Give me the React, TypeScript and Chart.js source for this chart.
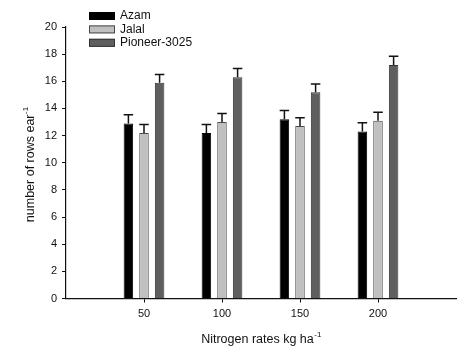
import React, { useEffect, useRef } from "react";
import { Chart, registerables } from "chart.js";

Chart.register(...registerables);

const categories = [50, 100, 150, 200];
const seriesNames = ["Azam", "Jalal", "Pioneer-3025"];
const azam = [12.9, 12.2, 13.2, 12.3];
const azamErr = [0.63, 0.62, 0.64, 0.65];
const jalal = [12.2, 13.0, 12.7, 13.1];
const jalalErr = [0.61, 0.62, 0.61, 0.62];
const pioneer = [15.9, 16.3, 15.2, 17.2];
const pioneerErr = [0.61, 0.64, 0.61, 0.64];
const yTicks = [0, 2, 4, 6, 8, 10, 12, 14, 16, 18, 20];
const xTitle = "Nitrogen rates kg ha";
const yTitle = "number of rows ear";
const titleSup = "-1";

const fills = ["#000000", "#c0c0c0", "#5f5f5f"];
const borders = ["#000000", "#4a4a4a", "#333333"];
const FONT = "'Liberation Sans', Arial, sans-serif";

const errorBarPlugin = {
  id: "errorBars",
  afterDatasetsDraw(chart: any) {
    const ctx = chart.ctx;
    const yScale = chart.scales.y;
    chart.data.datasets.forEach((ds: any, i: number) => {
      const meta = chart.getDatasetMeta(i);
      meta.data.forEach((bar: any, j: number) => {
        const v = ds.data[j].y;
        const e = ds.errors[j];
        const yTop = yScale.getPixelForValue(v);
        const yErr = yScale.getPixelForValue(v + e);
        const half = bar.width / 2;
        ctx.save();
        ctx.strokeStyle = "#111";
        ctx.lineWidth = 1.5;
        ctx.beginPath();
        ctx.moveTo(bar.x, yTop);
        ctx.lineTo(bar.x, yErr);
        ctx.moveTo(bar.x - half, yErr);
        ctx.lineTo(bar.x + half, yErr);
        ctx.stroke();
        ctx.restore();
      });
    });
  },
};

const decorPlugin = {
  id: "decor",
  afterDraw(chart: any) {
    const ctx = chart.ctx;
    const area = chart.chartArea;
    ctx.save();
    // legend
    const lx = 89;
    const ly = 16;
    const step = 13.4;
    chart.data.datasets.forEach((ds: any, i: number) => {
      const cy = ly + i * step;
      ctx.fillStyle = ds.backgroundColor;
      ctx.fillRect(lx, cy - 4, 26, 8);
      ctx.strokeStyle = ds.borderColor;
      ctx.lineWidth = 1;
      ctx.strokeRect(lx + 0.5, cy - 3.5, 25, 7);
      ctx.fillStyle = "#111";
      ctx.font = `12px ${FONT}`;
      ctx.textBaseline = "middle";
      ctx.textAlign = "left";
      ctx.fillText(ds.label, lx + 31, cy);
    });
    // x title
    ctx.textBaseline = "alphabetic";
    ctx.font = `12.5px ${FONT}`;
    const wMain = ctx.measureText(xTitle).width;
    ctx.font = `8px ${FONT}`;
    const wSup = ctx.measureText(titleSup).width;
    const cx = (area.left + area.right) / 2;
    const startX = cx - (wMain + wSup) / 2;
    ctx.fillStyle = "#111";
    ctx.font = `12.5px ${FONT}`;
    ctx.fillText(xTitle, startX, 343);
    ctx.font = `8px ${FONT}`;
    ctx.fillText(titleSup, startX + wMain + 0.5, 337);
    // y title
    ctx.font = `12.5px ${FONT}`;
    const wyMain = ctx.measureText(yTitle).width;
    const cyT = (area.top + area.bottom) / 2 + 2;
    ctx.translate(34, cyT);
    ctx.rotate(-Math.PI / 2);
    const sx = -(wyMain + wSup) / 2;
    ctx.fillText(yTitle, sx, 0);
    ctx.font = `8px ${FONT}`;
    ctx.fillText(titleSup, sx + wyMain + 0.5, -6);
    ctx.restore();
  },
};

export default function App() {
  const ref = useRef<HTMLCanvasElement>(null);

  useEffect(() => {
    document.body.style.margin = "0";
    const values = [azam, jalal, pioneer];
    const errs = [azamErr, jalalErr, pioneerErr];
    const chart = new Chart(ref.current as HTMLCanvasElement, {
      type: "bar",
      data: {
        datasets: seriesNames.map((name, i) => ({
          label: name,
          data: categories.map((c, j) => ({ x: c, y: values[i][j] })),
          errors: errs[i],
          backgroundColor: fills[i],
          borderColor: borders[i],
          borderWidth: 1,
          categoryPercentage: 0.6,
          barPercentage: 0.61,
        })) as any,
      },
      options: {
        responsive: false,
        animation: false,
        layout: { padding: { top: 27, right: 18, left: 0, bottom: 0 } },
        plugins: {
          legend: { display: false },
          tooltip: { enabled: false },
          title: { display: false },
        },
        scales: {
          x: {
            type: "linear",
            min: 0,
            max: 250,
            offset: false,
            afterBuildTicks: (axis: any) => {
              axis.ticks = categories.map((v) => ({ value: v }));
            },
            afterFit: (axis: any) => {
              axis.height = 62.5;
            },
            ticks: {
              color: "#111",
              font: { family: FONT, size: 11 },
              padding: 5,
              maxRotation: 0,
            },
            grid: {
              offset: false,
              drawOnChartArea: false,
              drawTicks: true,
              tickLength: 4,
              tickColor: "#111",
              tickWidth: 1,
            },
            border: { display: true, color: "#111", width: 1.2 },
          },
          y: {
            min: 0,
            max: 20,
            afterBuildTicks: (axis: any) => {
              axis.ticks = yTicks.map((v) => ({ value: v }));
            },
            afterFit: (axis: any) => {
              axis.width = 66;
            },
            ticks: {
              color: "#111",
              font: { family: FONT, size: 11 },
              padding: 5,
            },
            grid: {
              drawOnChartArea: false,
              drawTicks: true,
              tickLength: 4,
              tickColor: "#111",
              tickWidth: 1,
            },
            border: { display: true, color: "#111", width: 1.2 },
          },
        },
      },
      plugins: [errorBarPlugin, decorPlugin],
    } as any);
    return () => chart.destroy();
  }, []);

  return (
    <div style={{ position: "fixed", left: 0, top: 0, width: 474, height: 361 }}>
      <canvas ref={ref} width={474} height={361} />
    </div>
  );
}
